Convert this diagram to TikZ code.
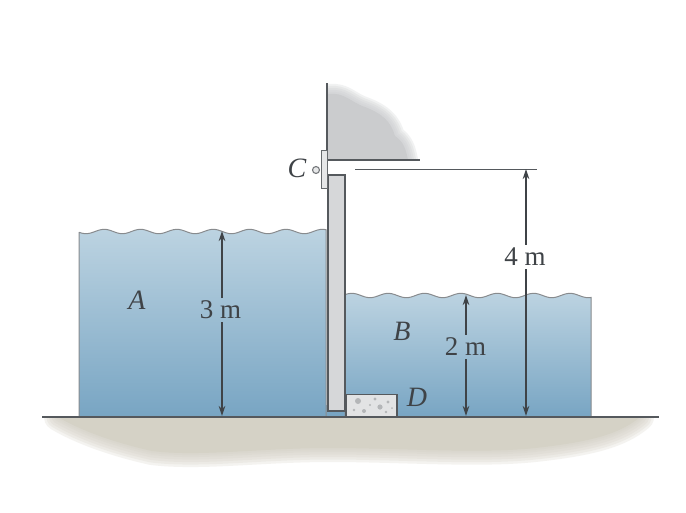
\documentclass[tikz,border=0pt]{standalone}
\usepackage{fontspec}
\setmainfont{Liberation Serif}
\usetikzlibrary{arrows.meta}
\definecolor{ink}{HTML}{3F4347}
\definecolor{groundc}{HTML}{D5D2C6}
\definecolor{cloudc}{HTML}{CBCCCE}
\definecolor{watertop}{HTML}{BCD3E1}
\definecolor{waterbot}{HTML}{78A5C3}
\definecolor{gatec}{HTML}{D6D7D9}
\definecolor{linec}{HTML}{55595D}
\definecolor{speck}{HTML}{B4B6B8}
\tikzset{
  lab/.style={font=\fontsize{27}{27}\selectfont,text=ink,inner sep=0pt},
  ilab/.style={lab,font=\fontsize{28}{28}\selectfont\itshape},
  dimline/.style={draw=ink,line width=1.1pt,-{Stealth[length=10pt,width=6.5pt]}},
  waterbody/.style={draw=linec!70,line width=1pt,top color=watertop,bottom color=waterbot},
  solid part/.style={draw=linec,line width=1.8pt,fill=gatec},
}
\begin{document}
\begin{tikzpicture}[x=1pt,y=-1pt]
\useasboundingbox (0,0) rectangle (686,512);
\fill[white] (0,0) rectangle (686,512);
% ground shadow, soft edge
\def\groundpath{(58,417) .. controls (80,430) and (112,442) .. (152,451) .. controls (200,457) and (260,448) .. (330,448) .. controls (400,448) and (480,454) .. (535,448) .. controls (590,442) and (620,434) .. (640,417) -- cycle}
\begin{scope}
\clip (0,417) rectangle (686,512);
\foreach \w in {28,23,18,13,8,4}{
  \draw[groundc,opacity=0.25,line width=\w pt,line join=round] \groundpath;
}
\fill[groundc] \groundpath;
\end{scope}
% cloud-shaped support
\def\cloudpath{(328,94) .. controls (345,92) and (350,102) .. (365,107) .. controls (383,114) and (391,122) .. (395,136) .. controls (404,142) and (406,150) .. (408,160) -- (328,160) -- cycle}
\begin{scope}
\clip (327,80) rectangle (430,160);
\foreach \w in {20,16,12,8,4}{
  \draw[cloudc,opacity=0.25,line width=\w pt,line join=round] \cloudpath;
}
\fill[cloudc] \cloudpath;
\end{scope}
% water
\fill[waterbot] (326,405) rectangle (346,417);
\path[waterbody] (79,417) -- (79,232)
  -- plot[domain=79:326,samples=90,smooth] (\x,{231.5+2.2*cos((\x-86)*9.9)})
  -- (326,417) -- cycle;
\path[waterbody] (345,417) -- (345,295)
  -- plot[domain=345:591,samples=90,smooth] (\x,{295.5+2.2*cos((\x-370)*9.9)})
  -- (591,417) -- cycle;
% gate
\node[solid part,minimum width=17pt,minimum height=236pt,inner sep=0pt,anchor=north west] (gate) at (327,174) {};
% block D
\node[draw=linec,line width=1.6pt,fill=gatec!70!white,minimum width=51pt,minimum height=23pt,inner sep=0pt,anchor=north west] (block) at (345,393.5) {};
\foreach \a/\b/\r in {358/401/3,364/411/2,375/399/1.6,380/407/2.6,388/402/1.6,354/410/1.4,370/405/1.2,386/412/1.3,392/408/1}{
  \fill[speck] (\a,\b) circle (\r);
}
% wall and ceiling
\coordinate (walltop) at (327,83);
\coordinate (corner) at (327,160);
\coordinate (ceilend) at (420,160);
\draw[linec,line width=1.8pt] (walltop) -- (corner) -- (ceilend);
% hinge
\node[draw=linec!90,line width=1.1pt,minimum width=6pt,minimum height=38pt,inner sep=0pt,fill=gatec!60!white,anchor=north west] (plate) at (320.5,150) {};
\node[draw=linec!80,line width=1.1pt,circle,minimum size=7pt,inner sep=0pt,fill=gatec!60!white] (pin) at (316,170) {};
% ground
\coordinate (gl) at (42,417);
\coordinate (gr) at (659,417);
\draw[linec,line width=1.8pt] (gl) -- (gr);
% labels
\node[lab] (m3) at (220.5,310) {3 m};
\node[lab] (m2) at (465.5,347) {2 m};
\node[lab] (m4) at (525,257) {4 m};
\node[ilab] (A) at (137,300) {A};
\node[ilab] (B) at (402,331) {B};
\node[ilab] (C) at (297,168) {C};
\node[ilab] (D) at (417,397) {D};
% dimensions
\coordinate (a1) at (222,231); \coordinate (a2) at (222,416);
\coordinate (b1) at (466,295); \coordinate (b2) at (466,416);
\coordinate (c1) at (526,169); \coordinate (c2) at (526,416);
\coordinate (tl) at (355,169); \coordinate (tr) at (537,169);
\draw[linec,line width=1pt] (tl) -- (tr);
\path[dimline] (a1 |- m3.north) ++(0,-3) -- (a1);
\path[dimline] (a2 |- m3.south) ++(0,3) -- (a2);
\path[dimline] (b1 |- m2.north) ++(0,-3) -- (b1);
\path[dimline] (b2 |- m2.south) ++(0,3) -- (b2);
\path[dimline] (c1 |- m4.north) ++(0,-3) -- (c1);
\path[dimline] (c2 |- m4.south) ++(0,3) -- (c2);
\end{tikzpicture}
\end{document}
